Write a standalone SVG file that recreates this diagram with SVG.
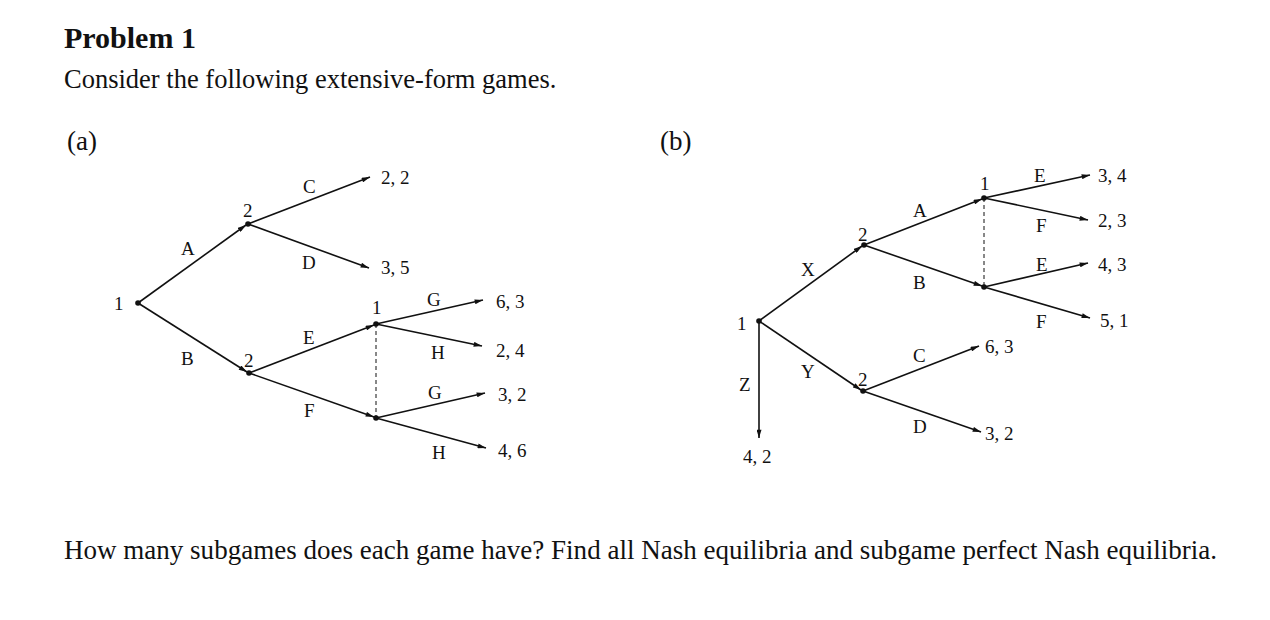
<svg xmlns="http://www.w3.org/2000/svg" width="1270" height="620" viewBox="0 0 1270 620">
<style>
text{font-family:"Liberation Serif","Times New Roman",serif;fill:#111}
.t{font-size:19px}
.e{stroke:#111;stroke-width:1.6;fill:none;marker-end:url(#ar)}
.d{stroke:#111;stroke-width:1;stroke-dasharray:4,3}
circle{fill:#111}
</style>
<defs><marker id="ar" viewBox="0 0 10 6" refX="10" refY="3" markerWidth="9" markerHeight="5" markerUnits="userSpaceOnUse" orient="auto"><path d="M0,0L10,3L0,6z" fill="#111"/></marker></defs>
<rect width="1270" height="620" fill="#fff"/>
<text x="64" y="48" font-size="30" font-weight="bold">Problem 1</text>
<text x="64" y="88" font-size="26.5">Consider the following extensive-form games.</text>
<text x="67" y="150" font-size="27">(a)</text>
<text x="660" y="150" font-size="27">(b)</text>
<text x="64" y="559" font-size="27" textLength="1153">How many subgames does each game have? Find all Nash equilibria and subgame perfect Nash equilibria.</text>
<g id="connectors">
<line class="e" x1="138" y1="303" x2="246" y2="225"/>
<line class="e" x1="138" y1="303" x2="247" y2="372"/>
<line class="e" x1="248" y1="224" x2="370" y2="177"/>
<line class="e" x1="248" y1="224" x2="369" y2="268"/>
<line class="e" x1="249" y1="373" x2="374" y2="325"/>
<line class="e" x1="249" y1="373" x2="374" y2="417"/>
<line class="e" x1="376" y1="324" x2="483" y2="300"/>
<line class="e" x1="376" y1="324" x2="482" y2="346"/>
<line class="e" x1="376" y1="418" x2="485" y2="393"/>
<line class="e" x1="376" y1="418" x2="486" y2="448"/>
<line class="d" x1="376" y1="324" x2="376" y2="418"/>
<line class="e" x1="759" y1="321" x2="862" y2="246"/>
<line class="e" x1="759" y1="321" x2="861" y2="390"/>
<line class="e" x1="759" y1="321" x2="759" y2="438"/>
<line class="e" x1="864" y1="245" x2="982" y2="199"/>
<line class="e" x1="864" y1="245" x2="982" y2="286"/>
<line class="e" x1="984" y1="198" x2="1090" y2="175"/>
<line class="e" x1="984" y1="198" x2="1088" y2="220"/>
<line class="e" x1="984" y1="287" x2="1088" y2="263"/>
<line class="e" x1="984" y1="287" x2="1090" y2="318"/>
<line class="e" x1="863" y1="391" x2="979" y2="346"/>
<line class="e" x1="863" y1="391" x2="981" y2="432"/>
<line class="d" x1="984" y1="198" x2="984" y2="287"/>
</g>
<g id="treeA" class="t">
<circle cx="138" cy="303" r="2.8"/><circle cx="248" cy="224" r="2.8"/><circle cx="249" cy="373" r="2.8"/><circle cx="376" cy="324" r="2.8"/><circle cx="376" cy="418" r="2.8"/>
<text x="114" y="310" class="t">1</text>
<text x="243" y="217" class="t">2</text>
<text x="244" y="367" class="t">2</text>
<text x="372" y="314" class="t">1</text>
<text x="181" y="255" class="t">A</text>
<text x="181" y="365" class="t">B</text>
<text x="303" y="193" class="t">C</text>
<text x="302" y="269" class="t">D</text>
<text x="303" y="344" class="t">E</text>
<text x="304" y="417" class="t">F</text>
<text x="427" y="306" class="t">G</text>
<text x="431" y="359" class="t">H</text>
<text x="428" y="399" class="t">G</text>
<text x="432" y="459" class="t">H</text>
<text x="381" y="184" class="t">2, 2</text>
<text x="381" y="274" class="t">3, 5</text>
<text x="496" y="308" class="t">6, 3</text>
<text x="496" y="357" class="t">2, 4</text>
<text x="498" y="401" class="t">3, 2</text>
<text x="498" y="457" class="t">4, 6</text>
</g>
<g id="treeB" class="t">
<circle cx="759" cy="321" r="2.8"/><circle cx="864" cy="245" r="2.8"/><circle cx="863" cy="391" r="2.8"/><circle cx="984" cy="198" r="2.8"/><circle cx="984" cy="287" r="2.8"/>
<text x="737" y="330" class="t">1</text>
<text x="858" y="241" class="t">2</text>
<text x="858" y="386" class="t">2</text>
<text x="980" y="190" class="t">1</text>
<text x="801" y="276" class="t">X</text>
<text x="801" y="378" class="t">Y</text>
<text x="739" y="391" class="t">Z</text>
<text x="913" y="217" class="t">A</text>
<text x="913" y="289" class="t">B</text>
<text x="913" y="362" class="t">C</text>
<text x="913" y="433" class="t">D</text>
<text x="1034" y="182" class="t">E</text>
<text x="1036" y="232" class="t">F</text>
<text x="1036" y="271" class="t">E</text>
<text x="1036" y="328" class="t">F</text>
<text x="1098" y="182" class="t">3, 4</text>
<text x="1098" y="227" class="t">2, 3</text>
<text x="1098" y="271" class="t">4, 3</text>
<text x="1100" y="327" class="t">5, 1</text>
<text x="985" y="353" class="t">6, 3</text>
<text x="985" y="440" class="t">3, 2</text>
<text x="743" y="463" class="t">4, 2</text>
</g>
</svg>
